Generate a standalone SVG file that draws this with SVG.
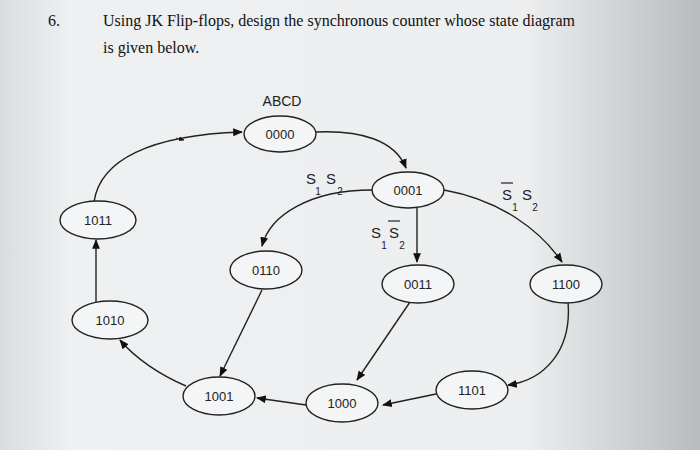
<svg xmlns="http://www.w3.org/2000/svg" width="700" height="450" viewBox="0 0 700 450">
<defs>
<linearGradient id="bg" x1="0" x2="1" y1="0" y2="0"><stop offset="0" stop-color="#d9dde0"/><stop offset="0.1" stop-color="#eef0f1"/><stop offset="0.75" stop-color="#eceeef"/><stop offset="1" stop-color="#b9bcbf"/></linearGradient>
<marker id="a" viewBox="0 0 10 10" refX="9" refY="5" markerWidth="7" markerHeight="7" orient="auto"><path d="M0,1 L10,5 L0,9 z" fill="#111"/></marker>
</defs>
<style>
.n ellipse{fill:#f4f5f6;stroke:#222;stroke-width:1.4}
.n text,.l{font-family:"Liberation Sans",Arial,sans-serif;font-size:13px;fill:#222;text-anchor:middle}
.g{font-size:15px}
.s{font-size:10px}
.e path{fill:none;stroke:#222;stroke-width:1.4;marker-end:url(#a)}
.h{font-family:"Liberation Serif","Times New Roman",serif;font-size:16px;fill:#111}
</style>
<rect width="700" height="450" fill="url(#bg)"/>
<text class="h" x="48" y="26">6.</text>
<text class="h" x="103" y="26">Using JK Flip-flops, design the synchronous counter whose state diagram</text>
<text class="h" x="103" y="53">is given below.</text>
<text class="l" x="282" y="106" style="font-size:14px">ABCD</text>
<g class="e" id="edges">
<path d="M94,202 C100,160 150,135 242,132"/>
<path d="M316,132 C360,130 395,140 406,168"/>
<path d="M372,190 C310,190 270,215 262,246"/>
<path d="M417,208 L417,262"/>
<path d="M444,190 C500,200 540,230 562,262"/>
<path d="M262,290 L220,376"/>
<path d="M410,302 L357,380"/>
<path d="M568,302 C572,350 545,380 508,385"/>
<path d="M436,394 L383,405"/>
<path d="M306,405 L257,398"/>
<path d="M186,386 C160,375 135,358 120,340"/>
<path d="M96,302 L96,240"/>
<path d="M176,138 L184,140" style="stroke-width:0.8"/>
</g>
<text class="l g" x="311" y="184">S</text><text class="l s" x="318" y="195">1</text>
<text class="l g" x="331" y="184">S</text><text class="l s" x="340" y="195">2</text>
<text class="l g" x="507" y="200">S</text><text class="l s" x="515" y="211">1</text>
<text class="l g" x="527" y="200">S</text><text class="l s" x="535" y="211">2</text>
<line x1="501" y1="183" x2="513" y2="183" stroke="#222" stroke-width="1.2"/>
<text class="l g" x="376" y="238">S</text><text class="l s" x="384" y="249">1</text>
<text class="l g" x="394" y="238">S</text><text class="l s" x="402" y="249">2</text>
<line x1="388" y1="221" x2="400" y2="221" stroke="#222" stroke-width="1.2"/>
<g class="n" id="n0000"><ellipse cx="280" cy="134" rx="36" ry="18"/><text x="280" y="139">0000</text></g>
<g class="n" id="n0001"><ellipse cx="408" cy="190" rx="36" ry="18"/><text x="408" y="195">0001</text></g>
<g class="n" id="n1011"><ellipse cx="98" cy="220" rx="38" ry="19"/><text x="98" y="225">1011</text></g>
<g class="n" id="n0110"><ellipse cx="266" cy="270" rx="36" ry="19"/><text x="266" y="275">0110</text></g>
<g class="n" id="n0011"><ellipse cx="418" cy="284" rx="36" ry="19"/><text x="418" y="289">0011</text></g>
<g class="n" id="n1100"><ellipse cx="566" cy="284" rx="36" ry="19"/><text x="566" y="289">1100</text></g>
<g class="n" id="n1010"><ellipse cx="110" cy="320" rx="38" ry="19"/><text x="110" y="325">1010</text></g>
<g class="n" id="n1001"><ellipse cx="219" cy="396" rx="36" ry="19"/><text x="219" y="401">1001</text></g>
<g class="n" id="n1000"><ellipse cx="342" cy="403" rx="36" ry="19"/><text x="342" y="408">1000</text></g>
<g class="n" id="n1101"><ellipse cx="472" cy="390" rx="36" ry="19"/><text x="472" y="395">1101</text></g>
</svg>
